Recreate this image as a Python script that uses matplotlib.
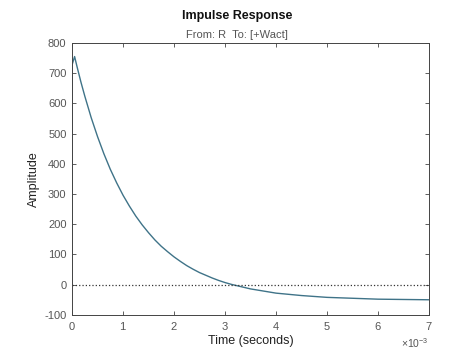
# Impulse response (MATLAB style)

# Libraries
import numpy as np
import matplotlib
matplotlib.use("Agg")
import matplotlib.pyplot as plt


# Data, time in milliseconds
time_ms = [0.0, 0.005, 0.05, 0.1, 0.175, 0.25, 0.375, 0.5, 0.625, 0.75,
           0.875, 1.0, 1.125, 1.25, 1.375, 1.5, 1.625, 1.75, 1.875,
           2.0, 2.125, 2.25, 2.375, 2.5, 2.625, 2.75, 2.875, 3.0, 3.125,
           3.25, 3.5, 3.75, 4.0, 4.25, 4.5, 4.75, 5.0, 5.5, 6.0, 6.5, 7.0]
amplitude = [0, 730, 755, 720, 670, 624, 553, 490, 433, 382,
             337, 296, 260, 227, 198, 172, 148, 127, 109,
             92, 77, 63, 51, 40, 31, 22, 14, 7, 1,
             -4, -14, -21, -28, -32, -36, -39, -42, -45, -48, -49, -50]

x_ticks = [0, 1, 2, 3, 4, 5, 6, 7]
y_ticks = [-100, 0, 100, 200, 300, 400, 500, 600, 700, 800]

# Setup/Config
plt.rcParams["font.family"] = ["Liberation Sans", "DejaVu Sans"]
plt.rcParams["mathtext.fontset"] = "custom"
plt.rcParams["mathtext.rm"] = "Liberation Sans"
plt.rcParams["axes.unicode_minus"] = False
plt.rcParams["xtick.direction"] = "in"
plt.rcParams["ytick.direction"] = "in"

grey = "#555555"
box = "#444444"

# Figure
fig = plt.figure(figsize=[4.74, 3.55], dpi=100)
ax = fig.add_axes([0.152, 0.113, 0.753, 0.766])

t = np.array(time_ms) * 1e-3
ax.plot(t, amplitude, color="#3f7388", linewidth=1.0)
ax.axhline(0, color="#333333", linestyle=":", linewidth=0.9)

ax.set_xlim(0, 7e-3)
ax.set_ylim(-100, 800)
ax.set_xticks(np.array(x_ticks) * 1e-3)
ax.set_yticks(y_ticks)
ax.ticklabel_format(style="sci", axis="x", scilimits=(0, 0), useMathText=True)

ax.tick_params(axis="both", which="both", top=True, right=True,
               length=3, width=0.6, color=box, labelcolor=grey,
               labelsize=8, pad=4)
for s in ax.spines.values():
    s.set_color(box)
    s.set_linewidth(0.7)

ax.xaxis.get_offset_text().set_fontsize(7.5)
ax.xaxis.get_offset_text().set_color(grey)

ax.set_xlabel("Time (seconds)", fontsize=9, color="#222222", labelpad=2)
ax.set_ylabel("Amplitude", fontsize=9, color="#222222", labelpad=3)

fig.text(0.5, 0.955, "Impulse Response", ha="center", va="center",
         fontsize=9, fontweight="bold", color="#111111")
fig.text(0.5, 0.9, "From: R  To: [+Wact]", ha="center", va="center",
         fontsize=8, color=grey)

fig.savefig("out.png", dpi=100)
plt.close(fig)
